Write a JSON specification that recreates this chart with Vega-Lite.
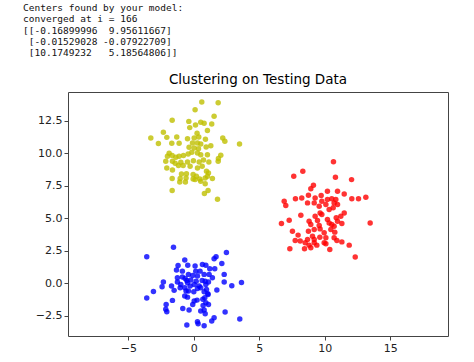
{
  "$schema": "https://vega.github.io/schema/vega-lite/v6.json",
  "padding": {"left": 23, "top": 2, "right": 5, "bottom": 5},
  "title": {
    "text": ["Centers found by your model:", "converged at i = 166", "[[-0.16899996\u00a0\u00a09.95611667]", "\u200b\u00a0[-0.01529028 -0.07922709]", "\u200b\u00a0[10.1749232\u00a0\u00a0\u00a05.18564806]]"],
    "anchor": "start",
    "frame": "group",
    "dx": -45,
    "font": "DejaVu Sans Mono",
    "fontSize": 9.5,
    "fontWeight": "normal",
    "lineHeight": 11.4,
    "color": "#111",
    "offset": 14
  },
  "spacing": 0,
  "vconcat": [
    {
      "width": 380,
      "height": 244,
      "title": {"text": "Clustering on Testing Data", "font": "DejaVu Sans", "fontSize": 13.5, "fontWeight": "normal", "color": "#000", "offset": 6},
      "data": {"values": [
        {"x":0.61,"y":13.93,"c":"0"},{"x":1.86,"y":13.88,"c":"0"},{"x":0.10,"y":13.34,"c":"0"},{"x":1.55,"y":12.83,"c":"0"},
        {"x":-1.65,"y":12.52,"c":"0"},{"x":-0.38,"y":12.44,"c":"0"},{"x":0.53,"y":12.37,"c":"0"},{"x":0.79,"y":12.29,"c":"0"},
        {"x":1.37,"y":12.24,"c":"0"},{"x":0.13,"y":12.16,"c":"0"},{"x":-0.31,"y":11.96,"c":"0"},{"x":-2.32,"y":11.60,"c":"0"},
        {"x":0.25,"y":11.52,"c":"0"},{"x":1.04,"y":11.73,"c":"0"},{"x":-3.28,"y":11.16,"c":"0"},{"x":-2.06,"y":11.21,"c":"0"},
        {"x":-1.30,"y":11.24,"c":"0"},{"x":-0.48,"y":11.11,"c":"0"},{"x":0.03,"y":11.16,"c":"0"},{"x":0.38,"y":11.24,"c":"0"},
        {"x":0.89,"y":11.06,"c":"0"},{"x":2.21,"y":11.16,"c":"0"},{"x":2.37,"y":10.91,"c":"0"},{"x":-2.70,"y":10.73,"c":"0"},
        {"x":-1.68,"y":10.75,"c":"0"},{"x":-1.12,"y":10.75,"c":"0"},{"x":-0.10,"y":10.78,"c":"0"},{"x":0.28,"y":10.78,"c":"0"},
        {"x":0.53,"y":10.70,"c":"0"},{"x":3.49,"y":10.70,"c":"0"},{"x":-0.36,"y":10.45,"c":"0"},{"x":0.03,"y":10.39,"c":"0"},
        {"x":0.36,"y":10.34,"c":"0"},{"x":0.94,"y":10.47,"c":"0"},{"x":1.30,"y":10.57,"c":"0"},{"x":-1.88,"y":9.98,"c":"0"},
        {"x":-2.01,"y":9.75,"c":"0"},{"x":-1.65,"y":9.81,"c":"0"},{"x":-1.37,"y":9.68,"c":"0"},{"x":-1.12,"y":9.75,"c":"0"},
        {"x":-0.79,"y":9.81,"c":"0"},{"x":-0.43,"y":9.93,"c":"0"},{"x":-0.15,"y":10.06,"c":"0"},{"x":0.28,"y":10.01,"c":"0"},
        {"x":0.53,"y":9.88,"c":"0"},{"x":1.04,"y":9.88,"c":"0"},{"x":2.06,"y":9.83,"c":"0"},{"x":1.88,"y":9.58,"c":"0"},
        {"x":-2.14,"y":9.37,"c":"0"},{"x":-1.63,"y":9.37,"c":"0"},{"x":-1.42,"y":9.22,"c":"0"},{"x":-0.99,"y":9.29,"c":"0"},
        {"x":-0.48,"y":9.32,"c":"0"},{"x":-0.03,"y":9.42,"c":"0"},{"x":0.41,"y":9.32,"c":"0"},{"x":0.74,"y":9.47,"c":"0"},
        {"x":1.15,"y":9.32,"c":"0"},{"x":1.86,"y":9.37,"c":"0"},{"x":-2.06,"y":8.86,"c":"0"},{"x":-1.63,"y":8.70,"c":"0"},
        {"x":-1.17,"y":9.04,"c":"0"},{"x":-0.81,"y":9.04,"c":"0"},{"x":-0.28,"y":8.99,"c":"0"},{"x":0.28,"y":8.86,"c":"0"},
        {"x":0.64,"y":8.99,"c":"0"},{"x":0.97,"y":8.60,"c":"0"},{"x":1.12,"y":8.47,"c":"0"},{"x":-0.94,"y":8.40,"c":"0"},
        {"x":-0.56,"y":8.42,"c":"0"},{"x":-0.05,"y":8.35,"c":"0"},{"x":0.20,"y":8.22,"c":"0"},{"x":-1.65,"y":8.04,"c":"0"},
        {"x":-1.04,"y":8.04,"c":"0"},{"x":-0.59,"y":8.09,"c":"0"},{"x":-0.05,"y":8.01,"c":"0"},{"x":0.10,"y":7.96,"c":"0"},
        {"x":0.46,"y":8.01,"c":"0"},{"x":0.87,"y":8.09,"c":"0"},{"x":1.04,"y":8.22,"c":"0"},{"x":1.42,"y":8.04,"c":"0"},
        {"x":-1.07,"y":7.78,"c":"0"},{"x":-0.64,"y":7.78,"c":"0"},{"x":0.53,"y":7.83,"c":"0"},{"x":0.87,"y":7.65,"c":"0"},
        {"x":1.09,"y":7.12,"c":"0"},{"x":-1.65,"y":7.12,"c":"0"},{"x":0.81,"y":6.89,"c":"0"},{"x":1.81,"y":6.45,"c":"0"},
        {"x":10.66,"y":9.34,"c":"2"},{"x":8.32,"y":8.60,"c":"2"},{"x":7.63,"y":8.22,"c":"2"},{"x":10.81,"y":8.14,"c":"2"},
        {"x":12.04,"y":7.96,"c":"2"},{"x":9.13,"y":7.53,"c":"2"},{"x":8.93,"y":7.25,"c":"2"},{"x":10.20,"y":7.07,"c":"2"},
        {"x":10.97,"y":7.07,"c":"2"},{"x":11.48,"y":6.86,"c":"2"},{"x":8.75,"y":6.76,"c":"2"},{"x":7.76,"y":6.48,"c":"2"},
        {"x":8.24,"y":6.55,"c":"2"},{"x":9.26,"y":6.55,"c":"2"},{"x":9.72,"y":6.73,"c":"2"},{"x":9.77,"y":6.30,"c":"2"},
        {"x":10.20,"y":6.43,"c":"2"},{"x":10.53,"y":6.48,"c":"2"},{"x":10.84,"y":6.43,"c":"2"},{"x":12.06,"y":6.48,"c":"2"},
        {"x":12.57,"y":6.48,"c":"2"},{"x":13.13,"y":6.61,"c":"2"},{"x":6.90,"y":6.30,"c":"2"},{"x":7.02,"y":5.97,"c":"2"},
        {"x":8.68,"y":6.17,"c":"2"},{"x":9.19,"y":6.17,"c":"2"},{"x":9.57,"y":5.91,"c":"2"},{"x":10.08,"y":6.04,"c":"2"},
        {"x":10.71,"y":6.17,"c":"2"},{"x":10.97,"y":6.04,"c":"2"},{"x":10.64,"y":5.79,"c":"2"},{"x":9.64,"y":5.40,"c":"2"},
        {"x":10.33,"y":5.66,"c":"2"},{"x":11.48,"y":5.40,"c":"2"},{"x":11.22,"y":5.15,"c":"2"},{"x":8.17,"y":5.22,"c":"2"},
        {"x":9.26,"y":5.15,"c":"2"},{"x":9.77,"y":5.27,"c":"2"},{"x":10.87,"y":5.02,"c":"2"},{"x":7.28,"y":4.84,"c":"2"},
        {"x":8.80,"y":4.76,"c":"2"},{"x":9.44,"y":4.81,"c":"2"},{"x":10.20,"y":4.89,"c":"2"},{"x":10.97,"y":4.76,"c":"2"},
        {"x":6.69,"y":4.58,"c":"2"},{"x":8.93,"y":4.51,"c":"2"},{"x":9.57,"y":4.43,"c":"2"},{"x":10.53,"y":4.51,"c":"2"},
        {"x":10.71,"y":4.38,"c":"2"},{"x":11.30,"y":4.58,"c":"2"},{"x":13.46,"y":4.63,"c":"2"},{"x":7.53,"y":3.99,"c":"2"},
        {"x":8.75,"y":3.99,"c":"2"},{"x":9.19,"y":4.12,"c":"2"},{"x":9.64,"y":4.17,"c":"2"},{"x":10.46,"y":4.12,"c":"2"},
        {"x":10.76,"y":3.92,"c":"2"},{"x":7.96,"y":3.69,"c":"2"},{"x":9.06,"y":3.61,"c":"2"},{"x":9.62,"y":3.53,"c":"2"},
        {"x":10.08,"y":3.48,"c":"2"},{"x":8.68,"y":3.35,"c":"2"},{"x":9.19,"y":3.35,"c":"2"},{"x":10.71,"y":3.48,"c":"2"},
        {"x":10.92,"y":3.28,"c":"2"},{"x":7.74,"y":3.28,"c":"2"},{"x":8.12,"y":3.23,"c":"2"},{"x":8.50,"y":3.10,"c":"2"},
        {"x":9.19,"y":3.10,"c":"2"},{"x":9.95,"y":3.10,"c":"2"},{"x":11.30,"y":3.17,"c":"2"},{"x":11.86,"y":2.92,"c":"2"},
        {"x":8.80,"y":2.92,"c":"2"},{"x":9.39,"y":2.92,"c":"2"},{"x":10.08,"y":3.02,"c":"2"},{"x":7.33,"y":2.64,"c":"2"},
        {"x":8.45,"y":2.64,"c":"2"},{"x":8.93,"y":2.71,"c":"2"},{"x":10.38,"y":2.59,"c":"2"},{"x":12.32,"y":2.00,"c":"2"},
        {"x":9.95,"y":3.87,"c":"2"},{"x":10.33,"y":4.63,"c":"2"},
        {"x":-1.55,"y":2.76,"c":"1"},{"x":2.49,"y":2.36,"c":"1"},{"x":-3.59,"y":2.02,"c":"1"},{"x":1.70,"y":2.02,"c":"1"},
        {"x":1.55,"y":1.87,"c":"1"},{"x":-0.69,"y":1.77,"c":"1"},{"x":-1.20,"y":1.36,"c":"1"},{"x":-0.46,"y":1.38,"c":"1"},
        {"x":0.10,"y":1.31,"c":"1"},{"x":0.66,"y":1.43,"c":"1"},{"x":0.92,"y":1.38,"c":"1"},{"x":2.14,"y":1.51,"c":"1"},
        {"x":-1.32,"y":1.00,"c":"1"},{"x":-0.87,"y":0.92,"c":"1"},{"x":0.15,"y":0.92,"c":"1"},{"x":0.48,"y":0.92,"c":"1"},
        {"x":1.22,"y":1.10,"c":"1"},{"x":1.60,"y":1.10,"c":"1"},{"x":-0.41,"y":0.67,"c":"1"},{"x":-0.08,"y":0.59,"c":"1"},
        {"x":0.28,"y":0.54,"c":"1"},{"x":0.79,"y":0.67,"c":"1"},{"x":1.17,"y":0.67,"c":"1"},{"x":1.42,"y":0.41,"c":"1"},
        {"x":-1.25,"y":0.41,"c":"1"},{"x":-0.87,"y":0.46,"c":"1"},{"x":-0.66,"y":0.36,"c":"1"},{"x":-0.53,"y":0.20,"c":"1"},
        {"x":-0.23,"y":0.23,"c":"1"},{"x":0.18,"y":0.15,"c":"1"},{"x":0.64,"y":0.20,"c":"1"},{"x":0.87,"y":0.15,"c":"1"},
        {"x":2.32,"y":0.67,"c":"1"},{"x":-2.32,"y":0.08,"c":"1"},{"x":-1.25,"y":0.08,"c":"1"},{"x":-0.99,"y":-0.10,"c":"1"},
        {"x":-0.48,"y":0.03,"c":"1"},{"x":0.03,"y":-0.10,"c":"1"},{"x":0.41,"y":-0.23,"c":"1"},{"x":0.92,"y":-0.10,"c":"1"},
        {"x":1.12,"y":0.08,"c":"1"},{"x":2.32,"y":0.08,"c":"1"},{"x":2.90,"y":-0.20,"c":"1"},{"x":3.64,"y":0.05,"c":"1"},
        {"x":-2.42,"y":-0.28,"c":"1"},{"x":-1.70,"y":-0.23,"c":"1"},{"x":-1.04,"y":-0.36,"c":"1"},{"x":-0.69,"y":-0.36,"c":"1"},
        {"x":-0.28,"y":-0.23,"c":"1"},{"x":0.28,"y":-0.41,"c":"1"},{"x":0.53,"y":-0.36,"c":"1"},{"x":0.97,"y":-0.49,"c":"1"},
        {"x":1.76,"y":-0.54,"c":"1"},{"x":-3.08,"y":-0.64,"c":"1"},{"x":-1.50,"y":-0.56,"c":"1"},{"x":-0.41,"y":-0.61,"c":"1"},
        {"x":0.00,"y":-0.67,"c":"1"},{"x":0.79,"y":-0.67,"c":"1"},{"x":1.07,"y":-0.82,"c":"1"},{"x":-3.59,"y":-1.15,"c":"1"},
        {"x":-1.63,"y":-1.33,"c":"1"},{"x":-0.69,"y":-1.00,"c":"1"},{"x":-0.48,"y":-1.08,"c":"1"},{"x":0.25,"y":-1.31,"c":"1"},
        {"x":0.69,"y":-1.25,"c":"1"},{"x":0.84,"y":-1.13,"c":"1"},{"x":1.09,"y":-0.87,"c":"1"},{"x":-2.11,"y":-1.64,"c":"1"},
        {"x":1.12,"y":-1.64,"c":"1"},{"x":0.71,"y":-1.72,"c":"1"},{"x":0.92,"y":-1.51,"c":"1"},{"x":-2.14,"y":-2.02,"c":"1"},
        {"x":-2.06,"y":-2.20,"c":"1"},{"x":-0.84,"y":-1.95,"c":"1"},{"x":-0.36,"y":-2.07,"c":"1"},{"x":0.53,"y":-2.15,"c":"1"},
        {"x":0.79,"y":-2.07,"c":"1"},{"x":0.87,"y":-2.36,"c":"1"},{"x":2.39,"y":-2.23,"c":"1"},{"x":1.55,"y":-2.66,"c":"1"},
        {"x":1.37,"y":-2.92,"c":"1"},{"x":3.51,"y":-2.76,"c":"1"},{"x":0.28,"y":-2.97,"c":"1"},{"x":0.33,"y":-3.12,"c":"1"},
        {"x":-0.53,"y":-3.23,"c":"1"},{"x":0.79,"y":-3.28,"c":"1"},{"x":-0.08,"y":-1.64,"c":"1"},{"x":0.03,"y":-1.38,"c":"1"},
        {"x":-0.59,"y":-0.61,"c":"1"}
      ]},
      "mark": {"type": "circle", "size": 30, "opacity": 0.8},
      "encoding": {
        "x": {"field": "x", "type": "quantitative", "title": null,
              "scale": {"domain": [-9.6, 19.4], "nice": false, "zero": false},
              "axis": {"values": [-5, 0, 5, 10, 15], "format": "d"}},
        "y": {"field": "y", "type": "quantitative", "title": null,
              "scale": {"domain": [-4.07, 14.7], "nice": false, "zero": false},
              "axis": {"values": [-2.5, 0, 2.5, 5, 7.5, 10, 12.5], "format": ".1f", "minExtent": 44}},
        "color": {"field": "c", "type": "nominal", "legend": null,
                  "scale": {"domain": ["0", "1", "2"], "range": ["#bfbf00", "#0000ff", "#ff0000"]}}
      }
    }
  ],
  "config": {
    "view": {"stroke": "#444", "strokeWidth": 1},
    "axis": {"grid": false, "domain": false, "tickColor": "#444", "tickSize": 4, "labelFont": "DejaVu Sans", "labelFontSize": 11, "labelColor": "#222", "labelPadding": 2}
  }
}
